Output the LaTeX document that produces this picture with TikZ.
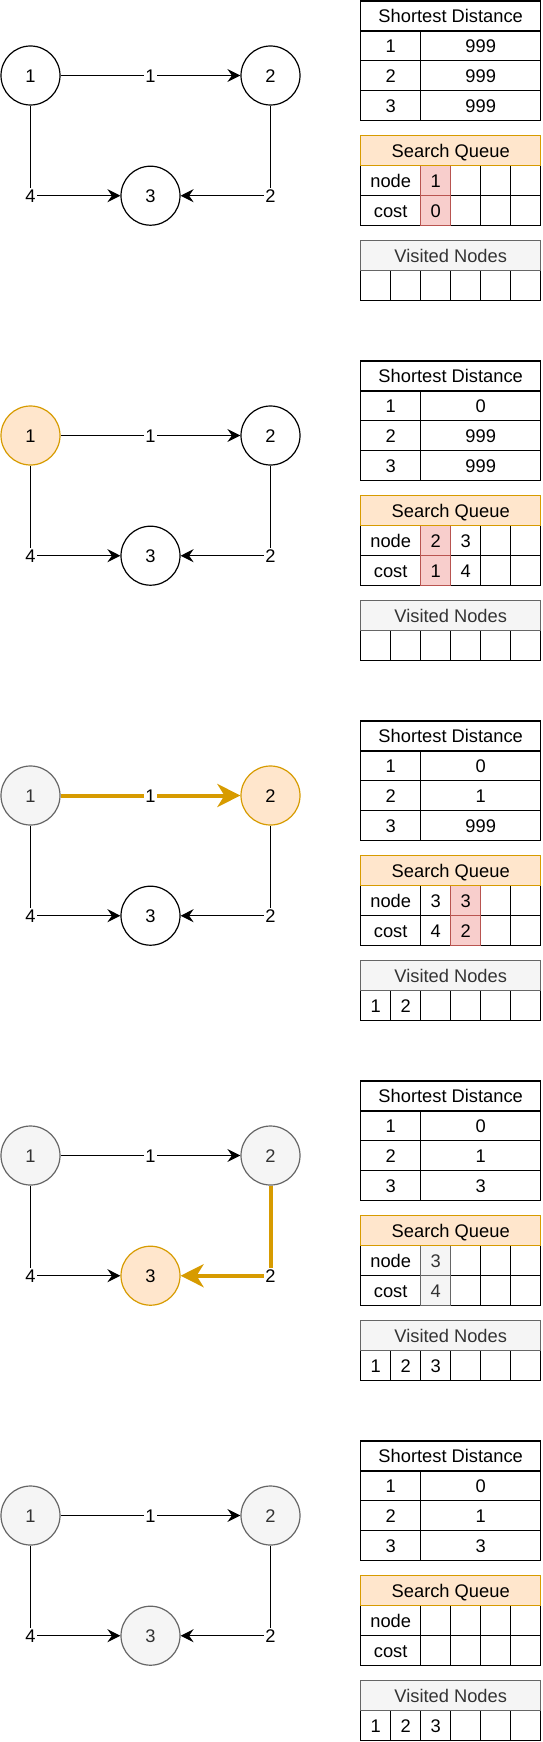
\documentclass[tikz,border=0pt]{standalone}
\usepackage{fontspec}
\setmainfont{Liberation Sans}
\usetikzlibrary{arrows.meta}
\definecolor{ofill}{HTML}{FFE6CC}
\definecolor{oline}{HTML}{D79B00}
\definecolor{rfill}{HTML}{F8CECC}
\definecolor{rline}{HTML}{B85450}
\definecolor{gfill}{HTML}{F5F5F5}
\definecolor{gline}{HTML}{666666}
\definecolor{gtext}{HTML}{333333}
\newcommand\fs{\fontsize{18.3}{22}\selectfont}
\tikzset{
  vtx/.style={circle, draw, line width=1.2pt, minimum size=59pt, inner sep=0pt, font=\fs, text height=14pt, text depth=0pt},
  vwhite/.style={vtx, fill=white},
  vgray/.style={vtx, fill=gfill, draw=gline, text=gtext},
  vorange/.style={vtx, fill=ofill, draw=oline},
  edge/.style={line width=1.2pt, -{Stealth[length=13pt,width=13pt,inset=4.5pt]}},
  hedge/.style={line width=4pt, draw=oline, -{Stealth[length=23pt,width=23pt,inset=7pt]}},
  elabel/.style={fill=white, inner sep=1pt, font=\fs, text height=13.2pt, text depth=0pt},
  cellbase/.style={rectangle, draw=black, line width=1.5pt, minimum height=30pt, inner sep=0pt, outer sep=0pt, anchor=north west, font=\fs, text height=13.2pt, text depth=0pt},
  rcell/.style={fill=rfill, draw=rline},
  gcell/.style={fill=gfill, draw=gline, text=gtext},
  ohead/.style={fill=ofill, draw=oline},
}
\newcommand\cell[5]{\node[cellbase,minimum width=#3pt,#4] (#1) at (#2) {#5};}
% graph: prefix, styles v1 v2 v3, styles e12 e13 e23
\newcommand\dgraph[7]{%
  \node[#2] (#1v1) at (30.5,75.5) {1};
  \node[#3] (#1v2) at (270.5,75.5) {2};
  \node[#4] (#1v3) at (150.5,195.7) {3};
  \draw[#5] (#1v1) -- node[elabel]{1} (#1v2);
  \draw[#6] (#1v1) |- node[elabel,pos=0.5]{4} (#1v3);
  \draw[#7] (#1v2) |- node[elabel,pos=0.5]{2} (#1v3);
}
% shortest distance table
\newcommand\sdtab[4]{%
  \cell{#1sd}{360.7,0.8}{180}{}{Shortest Distance}
  \cell{#1k1}{360.7,30.7}{60}{}{1}
  \cell{#1d1}{420.7,30.7}{120}{}{#2}
  \cell{#1k2}{360.7,60.7}{60}{}{2}
  \cell{#1d2}{420.7,60.7}{120}{}{#3}
  \cell{#1k3}{360.7,90.7}{60}{}{3}
  \cell{#1d3}{420.7,90.7}{120}{}{#4}
}
% queue base: labels and columns 3,4
\newcommand\qbase[1]{%
  \cell{#1qln}{360.7,165.7}{60}{}{node}
  \cell{#1qlc}{360.7,195.7}{60}{}{cost}
  \cell{#1q3n}{480.7,165.7}{30}{}{}
  \cell{#1q3c}{480.7,195.7}{30}{}{}
  \cell{#1q4n}{510.7,165.7}{30}{}{}
  \cell{#1q4c}{510.7,195.7}{30}{}{}
}
% queue column: prefix, index, x, style, node, cost
\newcommand\qcol[6]{%
  \cell{#1q#2n}{#3,165.7}{30}{#4}{#5}
  \cell{#1q#2c}{#3,195.7}{30}{#4}{#6}
}
\newcommand\qhead[1]{\cell{#1qh}{360.7,135.7}{180}{ohead}{Search Queue}}
% visited: prefix, three first entries
\newcommand\vis[4]{%
  \cell{#1w1}{360.7,270.7}{30}{}{#2}
  \cell{#1w2}{390.7,270.7}{30}{}{#3}
  \cell{#1w3}{420.7,270.7}{30}{}{#4}
  \cell{#1w4}{450.7,270.7}{30}{}{}
  \cell{#1w5}{480.7,270.7}{30}{}{}
  \cell{#1w6}{510.7,270.7}{30}{}{}
  \cell{#1wh}{360.7,240.7}{180}{gcell}{Visited Nodes}
}
\begin{document}
\begin{tikzpicture}[x=1pt,y=-1pt]
\useasboundingbox (0,0) rectangle (543,1742);
% panel 1
\begin{scope}[shift={(0,0)}]
  \dgraph{a}{vwhite}{vwhite}{vwhite}{edge}{edge}{edge}
  \sdtab{a}{999}{999}{999}
  \qbase{a}
  \qcol{a}{2}{450.7}{}{}{}
  \qcol{a}{1}{420.7}{rcell}{1}{0}
  \qhead{a}
  \vis{a}{}{}{}
\end{scope}
% panel 2
\begin{scope}[shift={(0,360)}]
  \dgraph{b}{vorange}{vwhite}{vwhite}{edge}{edge}{edge}
  \sdtab{b}{0}{999}{999}
  \qbase{b}
  \qcol{b}{2}{450.7}{}{3}{4}
  \qcol{b}{1}{420.7}{rcell}{2}{1}
  \qhead{b}
  \vis{b}{}{}{}
\end{scope}
% panel 3
\begin{scope}[shift={(0,720)}]
  \dgraph{c}{vgray}{vorange}{vwhite}{hedge}{edge}{edge}
  \sdtab{c}{0}{1}{999}
  \qbase{c}
  \qcol{c}{1}{420.7}{}{3}{4}
  \qcol{c}{2}{450.7}{rcell}{3}{2}
  \qhead{c}
  \vis{c}{1}{2}{}
\end{scope}
% panel 4
\begin{scope}[shift={(0,1080)}]
  \dgraph{d}{vgray}{vgray}{vorange}{edge}{edge}{hedge}
  \sdtab{d}{0}{1}{3}
  \qbase{d}
  \qcol{d}{2}{450.7}{}{}{}
  \qcol{d}{1}{420.7}{gcell}{3}{4}
  \qhead{d}
  \vis{d}{1}{2}{3}
\end{scope}
% panel 5
\begin{scope}[shift={(0,1440)}]
  \dgraph{e}{vgray}{vgray}{vgray}{edge}{edge}{edge}
  \sdtab{e}{0}{1}{3}
  \qbase{e}
  \qcol{e}{2}{450.7}{}{}{}
  \qcol{e}{1}{420.7}{}{}{}
  \qhead{e}
  \vis{e}{1}{2}{3}
\end{scope}
\end{tikzpicture}
\end{document}
